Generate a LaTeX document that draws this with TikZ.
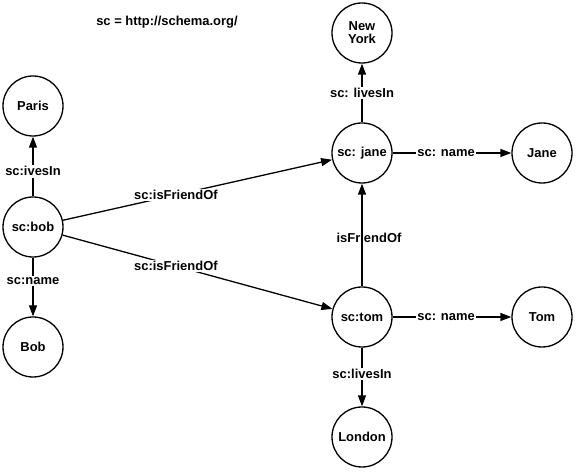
\documentclass[tikz,border=0pt]{standalone}
\usepackage{fontspec}
\setmainfont{Liberation Sans}
\usetikzlibrary{arrows.meta}
\tikzset{
    every node/.style={font=\fontsize{13}{15}\selectfont\bfseries},
    res/.style={draw, circle, line width=1.3bp, minimum size=60bp, inner sep=0pt, align=center},
    rel/.style={line width=1.3bp, -{Triangle[length=11bp,width=8bp]}},
    lbl/.style={fill=white, inner sep=1.5bp}
}
\begin{document}
\begin{tikzpicture}[x=1bp,y=1bp]
    \useasboundingbox (0,0) rectangle (576,472);

    % Prefix
    \node (prefix) at (167,450) {sc = http://schema.org/};

    % Resources
    \node[res] (paris) at (33,366) {Paris};
    \node[res] (bob) at (33,245) {sc:bob};
    \node[res] (bobname) at (33,125) {Bob};
    \node[res] (newyork) at (362,439) {New\\[-2bp]York};
    \node[res] (jane) at (362,319) {sc: jane};
    \node[res] (janename) at (542,319) {Jane};
    \node[res] (tom) at (362,155) {sc:tom};
    \node[res] (tomname) at (542,155) {Tom};
    \node[res] (london) at (362,35) {London};

    % Properties
    \draw[rel] (bob) -- node[lbl, pos=0.42] {sc:ivesIn} (paris);
    \draw[rel] (bob) -- node[lbl, pos=0.4] {sc:name} (bobname);
    \draw[rel] (bob) -- node[lbl, pos=0.42] {sc:isFriendOf} (jane);
    \draw[rel] (bob) -- node[lbl, pos=0.42] {sc:isFriendOf} (tom);
    \draw[rel] (jane) -- node[lbl] {sc: livesIn} (newyork);
    \draw[rel] (jane) -- node[lbl, pos=0.45] {sc: name} (janename);
    \draw[rel] (tom) -- node[xshift=7bp, pos=0.47] {isFriendOf} (jane);
    \draw[rel] (tom) -- node[lbl, pos=0.45] {sc: name} (tomname);
    \draw[rel] (tom) -- node[lbl, pos=0.45] {sc:livesIn} (london);
\end{tikzpicture}
\end{document}
